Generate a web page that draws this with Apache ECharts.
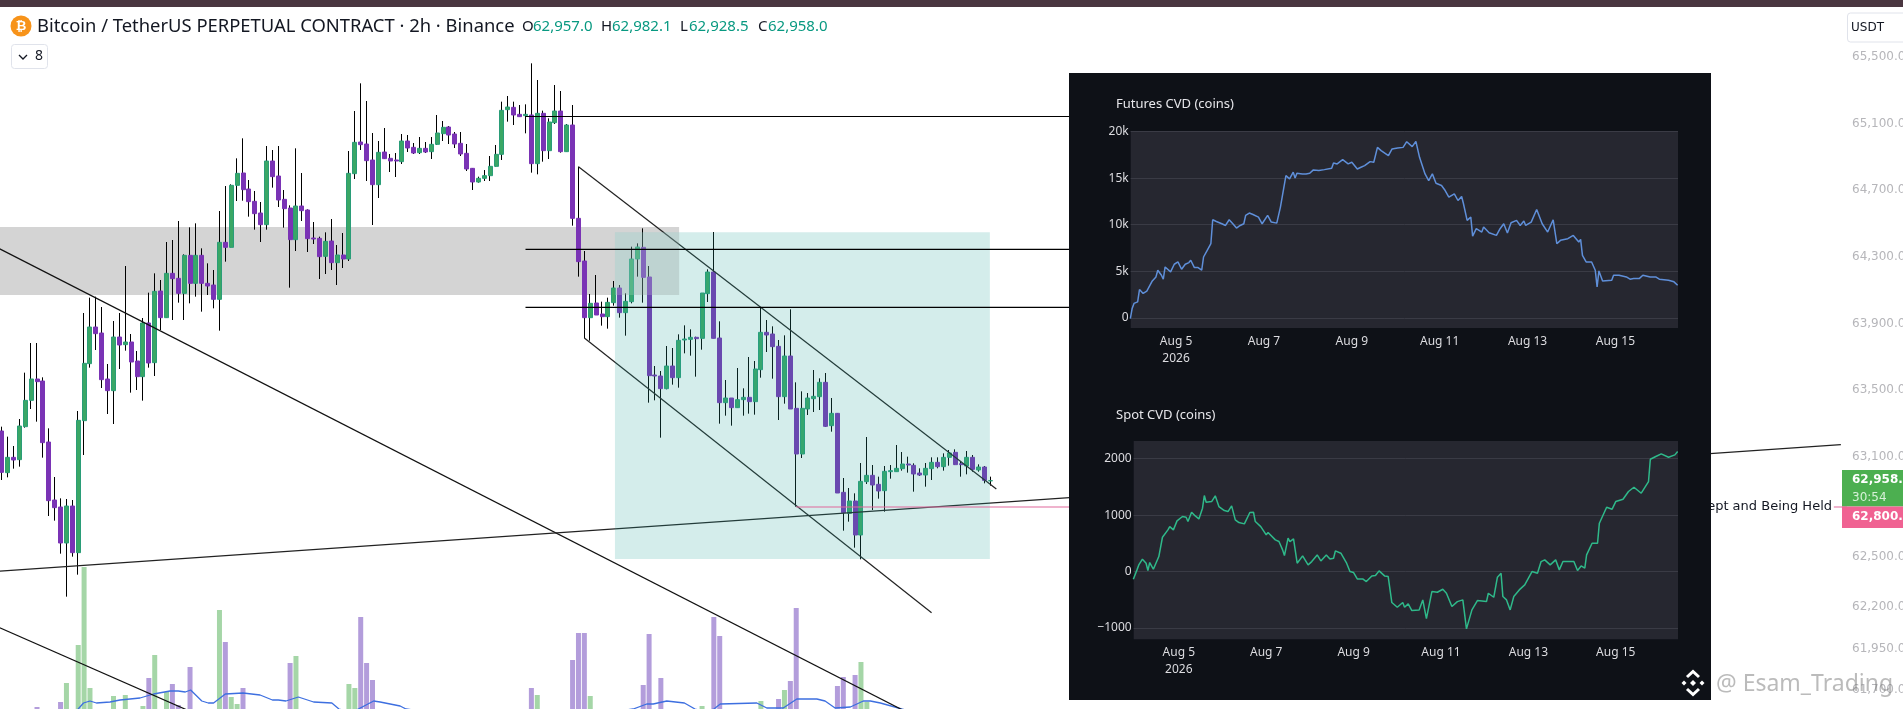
<!DOCTYPE html>
<html><head><meta charset="utf-8">
<style>html,body{margin:0;padding:0;background:#fff;overflow:hidden}#c{width:1903px;height:709px}</style>
<script src="https://cdn.jsdelivr.net/npm/echarts@6/dist/echarts.min.js"></script>
</head><body><div id="c"></div>
<script>
const opens=[63256,63006,63098,63084,63282,63440,63568,63556,63190,62842,62800,62584,62806,62526,63318,63660,63880,63844,63568,63498,63820,63774,63790,63676,63582,63904,63666,64096,63936,64202,64172,64082,64310,64142,64310,64142,64132,64046,64388,64358,64730,64804,64708,64634,64564,64494,64876,64786,64646,64594,64404,64606,64582,64414,64412,64304,64396,64266,64312,64288,64800,64990,64978,64882,64734,64930,64892,64882,64872,64996,64958,64926,64952,64932,64976,65040,65080,65038,64982,64922,64832,64750,64772,64788,64844,64916,65184,65198,65156,65148,65152,64860,65162,64938,65106,65176,64932,65092,64532,64276,63936,64024,63958,63942,64026,64114,63966,64032,64288,64358,64180,63592,63586,63510,63646,63576,63802,63806,63818,63812,64080,64210,63814,63426,63454,63396,63444,63458,63432,63624,63848,63838,63764,63462,63706,63392,63118,63388,63450,63462,63548,63288,63362,62888,62762,62836,62632,62952,62990,62936,62898,63012,63012,63030,63058,63050,63004,62992,63030,63068,63042,63098,63128,63060,63046,63098,63022,63040,62957];
const highs=[63282,63222,63166,63328,63606,63784,63784,63578,63272,62980,62852,62848,62842,63376,63964,64056,64062,64000,63658,63916,63964,64246,63838,63736,63934,64086,64202,64162,64390,64402,64516,64316,64478,64502,64352,64262,64222,64576,64726,64736,64892,65012,64762,64696,64630,64966,64942,64966,64702,64610,64952,64804,64586,64510,64422,64448,64528,64372,64444,64936,65176,65342,65236,65044,64996,65074,64918,64924,65038,65032,64984,65020,64990,65020,65152,65116,65086,65050,65050,64978,64834,64782,64822,64906,64972,65232,65266,65232,65212,65216,65462,65362,65178,65132,65332,65296,65098,65212,64842,64336,64078,64192,64032,64056,64156,64132,64082,64362,64382,64472,64246,63646,63616,63766,63754,63836,63890,63866,63822,64084,64226,64450,63914,63562,63454,63634,63512,63700,63676,63996,63922,63884,63802,63830,63986,63548,63494,63484,63622,63572,63604,63454,63364,62974,62914,62882,63064,63220,63052,62982,63046,63052,63172,63130,63102,63062,63032,63064,63098,63098,63122,63142,63146,63072,63136,63112,63056,63046,62982];
const lows=[62962,62978,63030,63042,63276,63388,63312,63096,62746,62718,62520,62262,62502,62394,63112,63636,63742,63514,63358,63298,63628,63738,63486,63502,63438,63636,63586,63862,63936,63922,64026,63922,64022,64062,63972,64072,63992,63858,64272,64358,64636,64638,64542,64464,64390,64464,64716,64600,64476,64116,64336,64516,64330,64378,64168,64198,64222,64132,64234,64276,64768,64942,64756,64492,64654,64888,64810,64780,64858,64930,64918,64918,64924,64888,64972,64996,64978,64954,64906,64816,64702,64746,64756,64756,64842,64882,65112,65092,65142,65042,64806,64796,64872,64888,65098,64926,64932,64488,64182,63812,63798,63952,63888,63870,64008,63936,63828,64022,64182,64026,63426,63440,63216,63506,63534,63516,63722,63708,63582,63744,64030,63812,63300,63348,63288,63396,63348,63360,63354,63576,63730,63570,63322,63420,63388,62802,63094,63352,63370,63382,63280,63252,62884,62658,62712,62556,62486,62938,62782,62850,62772,62970,63012,63018,63006,62892,62986,62922,62962,63032,63018,63048,63052,62982,62996,63012,63012,62942,62928];
const closes=[63008,63098,63082,63286,63440,63568,63552,63186,62838,62796,62584,62806,62526,63320,63662,63880,63840,63564,63498,63820,63772,63790,63670,63582,63904,63664,64094,63936,64202,64170,64082,64310,64142,64310,64142,64126,64046,64388,64358,64730,64802,64704,64632,64560,64494,64876,64782,64642,64590,64404,64606,64578,64410,64408,64302,64394,64266,64312,64288,64802,64988,64974,64878,64734,64928,64890,64876,64876,64996,64954,64924,64952,64930,64976,65044,65078,65032,64978,64918,64828,64750,64772,64788,64844,64916,65180,65200,65152,65142,65156,64860,65162,64938,65110,65176,64932,65092,64532,64272,63936,64022,63952,63942,64028,64114,63966,64034,64288,64360,64178,63588,63586,63510,63646,63576,63800,63808,63818,63810,64084,64210,63812,63426,63454,63396,63444,63458,63432,63628,63848,63832,63762,63462,63706,63388,63118,63392,63454,63464,63548,63284,63362,62884,62766,62836,62632,62954,62990,62932,62896,63014,63018,63032,63058,63052,62998,62992,63032,63068,63042,63098,63124,63054,63054,63098,63026,63040,62960,62958];
const volumePairs=[[6,2],[10,7],[11,26],[13,64],[14,142],[15,21],[19,13],[21,14],[24,3],[25,31],[26,54],[28,17],[29,25],[30,4],[32,42],[37,99],[38,67],[39,12],[40,5],[41,21],[49,46],[50,53],[59,25],[60,21],[61,92],[62,46],[63,29],[90,21],[91,14],[97,49],[98,76],[99,76],[100,13],[109,24],[110,75],[112,31],[119,3],[121,92],[122,73],[129,8],[132,10],[133,19],[134,28],[135,101],[142,23],[143,32],[145,34],[146,47],[147,7]];
const volumeMA=[[12,-5],[13,0],[13.9,6],[15,8],[16.1,6],[18.4,7],[20.1,9],[23.5,11],[25.8,15],[28.6,18],[30,18],[31.2,17],[32.1,19],[34,8],[35.1,6],[36,6],[38,15],[41,16],[43.9,14],[46,9],[47,9],[48.3,8],[50.4,12],[53,7],[56.1,6],[57.3,0],[59,-3],[60.6,0],[63.2,8],[64.3,7],[67.7,3],[68.7,0],[88,-15],[107.3,0],[109.6,5],[110.7,5],[113,8],[116,6],[117.8,0],[119.5,-3],[121,0],[122.1,5],[128.3,6],[130,1],[132.8,1],[135.1,10],[138.5,10],[139.9,8],[141.6,1],[144.2,2],[146.4,8],[147.6,8],[149.3,6],[152.9,0],[155,-3]];
const priceTicks=[65500,65100,64700,64300,63900,63500,63100,62500,62200,61950,61700];
const trendA=[[-1,64361],[160,61457]];
const trendB=[[-1,62086],[40,61450]];
const trendC=[[-1,62414],[312.5,63174]];
const channelTop=[[98,64842],[169,62908]];
const channelBottom=[[99,63814],[158,62166]];
const levelA=[[89,65143],[190,65143]];
const levelB=[[89,64346],[190,64346]];
const levelC=[[89,63998],[190,63998]];
const supportLeft=[[135,62800],[190,62800]];
const supportRight=[[311.3,62800],[314,62800]];
const grayZone=[-1,115.1,64480,64072];
const tealZone=[104.2,167.9,64448,62488];
const overlapZone=[104.2,115.1,64448,64072];
const futuresHours=[-1,0,1,3,4,6,8,9,11,13,14,16,17,18,19,21,23,25,27,29,31,32,34,36,38,39,41,43,44,46,49,51,53,55,56,57,59,61,62,64,66,69,71,74,76,79,81,82,84,86,88,89,90,93,95,97,99,102,105,109,110,112,115,118,120,123,125,127,130,132,134,136,140,142,145,148,150,151,153,155,157,158,160,162,164,166,169,171,173,176,177,178,180,181,183,185,186,188,191,192,195,199,201,203,205,207,210,212,214,215,218,219,221,224,227,230,232,234,235,238,241,244,245,246,248,251,253,254,255,257,262,263,266,270,271,272,274,277,279,283,286,288,293,296,298];
const futuresCVD=[-100,1000,1540,1710,3030,2610,2860,2860,3960,4390,5110,4570,4140,5460,5460,4930,5750,6000,5210,5750,5930,6180,5390,5390,5110,6530,7250,7960,10530,10350,10100,9920,10530,10100,10170,9640,9920,10100,11000,11250,11100,10820,10100,11000,10280,10170,11890,11710,15280,14920,15640,15030,15530,15460,15460,15530,15890,15820,15920,16070,16640,16530,16990,16530,16710,15990,16170,16350,16780,16710,18310,17960,17420,18140,18240,18310,18920,18740,18390,18960,17240,17060,15460,14740,15460,14460,14210,13670,12960,13320,13490,12600,13030,12250,10460,10820,8780,9570,9210,9750,9140,8850,9570,10100,9100,10210,10460,9920,10390,9920,10280,10100,11640,10100,9210,10530,7960,8320,8500,8500,8850,8140,8430,6710,6000,6000,5110,3320,5030,3960,4030,4570,4570,4390,4570,4140,4210,4210,4570,4390,4390,4140,4030,3860,3500];
const spotHours=[-1,1,2,4,6,7,8,10,11,13,15,16,18,19,21,23,26,28,29,31,33,35,37,38,39,42,44,46,47,49,51,53,55,57,60,63,65,66,69,72,73,77,79,81,82,84,85,87,89,92,95,97,100,102,105,107,109,110,113,116,118,120,122,125,127,130,132,134,137,139,141,144,147,148,150,152,156,158,160,163,166,169,171,174,177,180,182,183,185,188,193,194,197,199,201,202,204,206,208,211,214,218,221,223,225,228,231,233,235,239,241,243,245,247,248,251,254,255,259,262,264,268,271,274,278,282,283,286,289,293,296.5,298];
const spotCVD=[-136,30,118,219,148,18,160,41,41,266,608,573,738,797,738,898,975,963,886,1051,986,933,1122,1347,1229,1240,1341,1152,1181,1081,1063,1164,916,868,845,1046,1051,886,797,650,691,561,532,384,284,591,532,579,148,278,118,177,295,189,295,224,236,366,325,159,0,-18,-130,-130,-177,-77,-71,12,-77,-89,-549,-632,-549,-632,-573,-691,-680,-502,-833,-354,-366,-313,-384,-620,-532,-502,-1016,-1022,-679,-514,-532,-384,-455,-100,-30,-443,-502,-679,-443,-325,-236,0,-30,177,207,118,207,30,177,177,177,18,100,59,295,502,502,857,1140,1105,1240,1282,1418,1494,1388,1595,1990,2038,2085,2026,2067,2127];
const dayTicks=[24,72,120,168,216,264];
const dayLabels=['Aug 5','Aug 7','Aug 9','Aug 11','Aug 13','Aug 15'];
const futuresTicks=[0,5000,10000,15000,20000];
const spotTicks=[-1000,0,1000,2000];

const UI='"Noto Sans",sans-serif', TV='"DejaVu Sans",sans-serif';
const lineSer=(data,color,z,w)=>({type:'line',data,showSymbol:false,symbol:'none',silent:true,z,animation:false,xAxisIndex:0,yAxisIndex:0,lineStyle:{color,width:w||1.2}});
const rect=(z,col,mz)=>({type:'line',data:[],silent:true,z:mz,xAxisIndex:0,yAxisIndex:0,markArea:{silent:true,z:mz,animation:false,itemStyle:{color:col},data:[[{xAxis:z[0],yAxis:z[2]},{xAxis:z[1],yAxis:z[3]}]]}});
const txt=(x,y,text,fill,font,z,align,base)=>({type:'text',z:z||15,silent:true,style:{x,y,text,fill,font,textAlign:align||'left',textVerticalAlign:base||'middle'}});
const box=(x,y,w,h,fill,z,stroke,r)=>({type:'rect',z:z||15,silent:true,shape:{x,y,width:w,height:h,r:r||0},style:{fill,stroke:stroke||null,lineWidth:stroke?1:0}});
const dayFmt=v=>{const i=dayTicks.indexOf(v);return i<0?'':(i===0?dayLabels[i]+'\n2026':dayLabels[i]);};
const subX=(idx,gi)=>({type:'value',gridIndex:gi,min:-0.8,max:298.2,z:12,axisLine:{show:false},axisTick:{show:false,customValues:dayTicks},splitLine:{show:false},axisLabel:{customValues:dayTicks,formatter:dayFmt,color:'#dcdce0',fontFamily:UI,fontSize:12,lineHeight:17,margin:5,hideOverlap:false}});
const subY=(gi,min,max,ticks,fmt)=>({type:'value',gridIndex:gi,min,max,z:12,axisLine:{show:false},axisTick:{show:false,customValues:ticks},splitLine:{show:true,lineStyle:{color:'#3a3b45',width:1}},axisLabel:{customValues:ticks,formatter:fmt,color:'#dcdce0',fontFamily:UI,fontSize:12,margin:2,padding:[2,0,0,0]}});

const chart=echarts.init(document.getElementById('c'),null,{renderer:'canvas',width:1903,height:709});
chart.setOption({
 animation:false,backgroundColor:'#fff',
 grid:[
  {left:0,top:8,width:1845,height:701,show:false,outerBoundsMode:'none'},
  {left:1130.7,top:131,width:547.3,height:197,show:true,backgroundColor:'#262730',borderWidth:0,z:11,outerBoundsMode:'none'},
  {left:1133.7,top:441,width:544.3,height:198.3,show:true,backgroundColor:'#262730',borderWidth:0,z:11,outerBoundsMode:'none'}
 ],
 xAxis:[
  {type:'value',gridIndex:0,min:-0.289,max:313.2,show:false},
  subX(0,1),subX(1,2)
 ],
 yAxis:[
  {type:'value',gridIndex:0,position:'right',min:61588,max:65794,axisLine:{show:false},axisTick:{show:false,customValues:priceTicks},splitLine:{show:false},
   axisLabel:{customValues:priceTicks,margin:7,color:'#b6b6ba',fontFamily:TV,fontSize:12,formatter:v=>v.toLocaleString('en-US',{minimumFractionDigits:1})}},
  {type:'value',gridIndex:0,min:0,max:701,show:false},
  subY(1,-1100,20070,futuresTicks,v=>v===0?'0':(v/1000)+'k'),
  subY(2,-1200,2313,spotTicks,v=>String(v).replace('-','\u2212'))
 ],
 title:[
  {text:'Futures CVD (coins)',left:1116,top:98,padding:0,z:13,textStyle:{color:'#e6e6ea',fontFamily:UI,fontSize:13,fontWeight:'normal'}},
  {text:'Spot CVD (coins)',left:1116,top:409,padding:0,z:13,textStyle:{color:'#e6e6ea',fontFamily:UI,fontSize:13,fontWeight:'normal'}}
 ],
 series:[
  rect(grayZone,'#d4d4d4',1),
  {type:'bar',xAxisIndex:0,yAxisIndex:1,z:2,silent:true,barWidth:5,data:volumePairs.map(p=>({value:p,itemStyle:{color:closes[p[0]]>=opens[p[0]]?'#a5d6a7':'#b39ddb'}}))},
  {type:'line',xAxisIndex:0,yAxisIndex:1,z:3,silent:true,symbol:'none',showSymbol:false,data:volumeMA,lineStyle:{color:'#3d6fe0',width:1.3}},
  {type:'candlestick',xAxisIndex:0,yAxisIndex:0,z:3,silent:true,barWidth:1,encode:{x:0,y:[1,2,3,4]},
   itemStyle:{color:'#000',color0:'#000',borderColor:'#000',borderColor0:'#000',borderColorDoji:'#000',borderWidth:1},
   data:opens.map((o,i)=>[i,o,closes[i],lows[i],highs[i]])},
  {type:'candlestick',xAxisIndex:0,yAxisIndex:0,z:4,silent:true,barWidth:4.5,encode:{x:0,y:[1,2,3,4]},
   itemStyle:{color:'#3aa765',color0:'#7a33b5',borderColor:'#2a9d78',borderColor0:'#7a33b5',borderColorDoji:'#7a33b5',borderWidth:1},
   data:opens.map((o,i)=>[i,o,closes[i],Math.min(o,closes[i]),Math.max(o,closes[i])])},
  lineSer(trendA,'#111',5),lineSer(trendB,'#111',5),lineSer(trendC,'#222',5),
  lineSer(channelTop,'#222',5),lineSer(channelBottom,'#222',5),
  rect(tealZone,'rgba(38,166,154,0.2)',6),
  rect(overlapZone,'rgba(255,255,255,0.17)',6.5),
  lineSer(levelA,'#000',7),lineSer(levelB,'#000',7),lineSer(levelC,'#000',7),
  lineSer(supportLeft,'#e0689b',7),lineSer(supportRight,'#e0689b',7),
  {type:'line',xAxisIndex:1,yAxisIndex:2,z:13,silent:true,symbol:'none',showSymbol:false,data:futuresHours.map((h,i)=>[h,futuresCVD[i]]),lineStyle:{color:'#5f8fd9',width:1.5}},
  {type:'line',xAxisIndex:2,yAxisIndex:3,z:13,silent:true,symbol:'none',showSymbol:false,data:spotHours.map((h,i)=>[h,spotCVD[i]]),lineStyle:{color:'#2fb98a',width:1.5}}
 ],
 graphic:[
  box(0,0,1903,7,'#4a3640',15),
  {type:'circle',z:15,silent:true,shape:{cx:21,cy:26,r:10.5},style:{fill:'#f7931a'}},
  txt(21,26.5,'₿','#fff','bold 13px '+TV,16,'center'),
  txt(37,26.5,'Bitcoin / TetherUS PERPETUAL CONTRACT · 2h · Binance','#131722','18.4px '+UI),
  txt(522,26.5,'O','#131722','15px '+UI),txt(533,26.5,'62,957.0','#089981','15px '+UI),
  txt(601,26.5,'H','#131722','15px '+UI),txt(612,26.5,'62,982.1','#089981','15px '+UI),
  txt(680,26.5,'L','#131722','15px '+UI),txt(689,26.5,'62,928.5','#089981','15px '+UI),
  txt(758,26.5,'C','#131722','15px '+UI),txt(768,26.5,'62,958.0','#089981','15px '+UI),
  box(11.5,44.5,36,24,'#fff',15,'#e0e3eb',3),
  {type:'polyline',z:16,silent:true,shape:{points:[[19,55],[23,59],[27,55]]},style:{stroke:'#131722',lineWidth:1.3,fill:null}},
  txt(39,56.5,'8','#131722','14px '+UI,16,'center'),
  box(1847.5,13,60,29,'#fff',15,'#e0e3eb',3),
  txt(1851,27.5,'USDT','#131722','12px '+TV),
  txt(1832,507,'Swept and Being Held','#131722','13px '+TV,8,'right'),
  box(1069,73,642,627,'#0e1117',10),
  box(1842,470,61,36.5,'#4caf50',15),
  txt(1852,479.5,'62,958.0','#fff','bold 12px '+TV),
  txt(1852,497.5,'30:54','#d6f0d7','12px '+TV),
  box(1842,506.5,61,21.5,'#f06292',15),
  txt(1852,516.5,'62,800.0','#fff','bold 12px '+TV),
  {type:'polyline',z:20,silent:true,shape:{points:[[1687,677],[1693,671.5],[1699,677]]},style:{stroke:'#fff',lineWidth:3,fill:null}},
  {type:'polyline',z:20,silent:true,shape:{points:[[1687,689],[1693,694.5],[1699,689]]},style:{stroke:'#fff',lineWidth:3,fill:null}},
  {type:'polygon',z:20,silent:true,shape:{points:[[1693,680],[1696,683],[1693,686],[1690,683]]},style:{fill:'#fff'}},
  {type:'polygon',z:20,silent:true,shape:{points:[[1684,680.5],[1686.5,683],[1684,685.5],[1681.5,683]]},style:{fill:'#fff'}},
  {type:'polygon',z:20,silent:true,shape:{points:[[1702,680.5],[1704.5,683],[1702,685.5],[1699.5,683]]},style:{fill:'#fff'}},
  txt(1716,684,'@ Esam_Trading','rgba(120,120,120,0.5)','23px '+UI,20)
 ]
});
</script></body></html>
